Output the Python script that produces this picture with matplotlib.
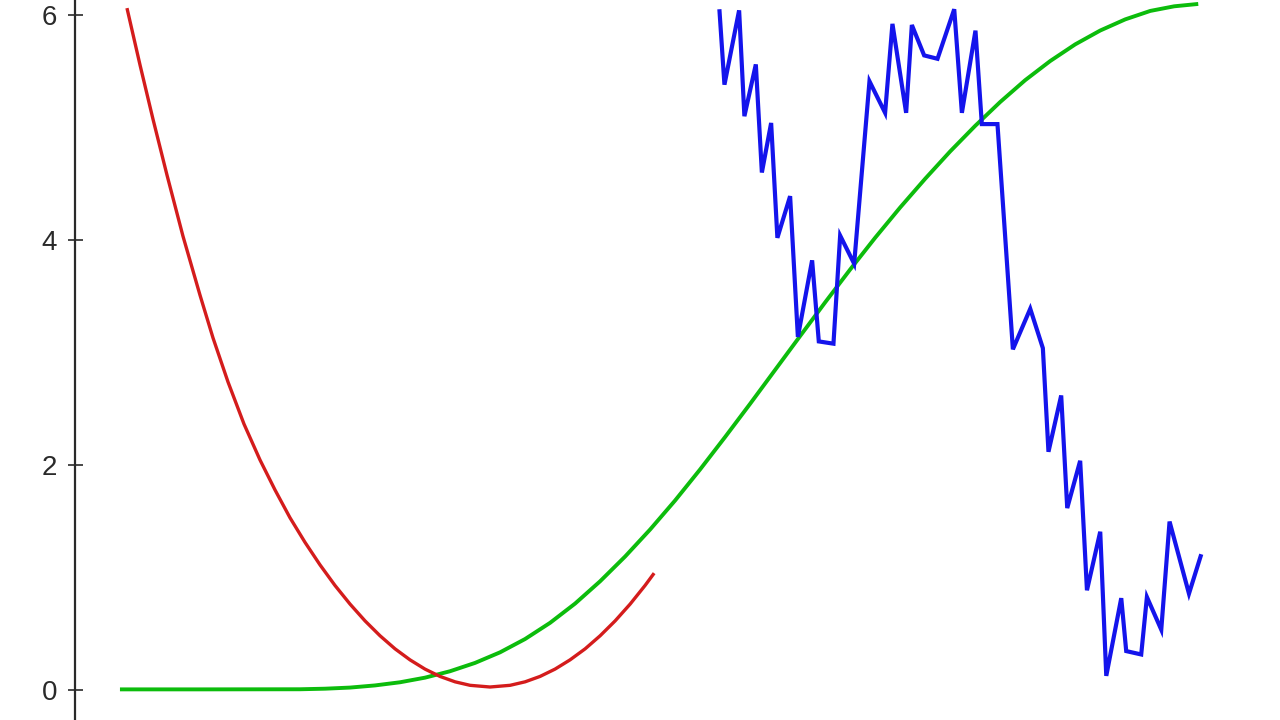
import matplotlib
matplotlib.use("Agg")
from matplotlib import pyplot as plt

# green s-curve
green_x = [0, 0.742, 1.670, 1.902, 2.134, 2.365, 2.597, 2.829, 3.061, 3.293, 3.525, 3.757,
           3.989, 4.221, 4.453, 4.685, 4.917, 5.148, 5.380, 5.612, 5.844, 6.076, 6.308,
           6.540, 6.772, 7.004, 7.236, 7.468, 7.699, 7.931, 8.163, 8.395, 8.627, 8.859,
           9.091, 9.323, 9.555, 9.777, 10.0]
green_y = [0.01, 0.01, 0.011, 0.016, 0.026, 0.045, 0.073, 0.114, 0.171, 0.245, 0.339, 0.457,
           0.601, 0.772, 0.970, 1.190, 1.430, 1.687, 1.963, 2.251, 2.546, 2.847, 3.148,
           3.447, 3.739, 4.021, 4.290, 4.545, 4.787, 5.014, 5.226, 5.420, 5.590, 5.738,
           5.861, 5.960, 6.035, 6.076, 6.097]

# red parabola
red_x = [0.065, 0.186, 0.306, 0.436, 0.584, 0.742, 0.863, 1.002, 1.150, 1.299, 1.438, 1.577,
         1.716, 1.855, 1.994, 2.134, 2.273, 2.412, 2.551, 2.690, 2.829, 2.968, 3.108, 3.247,
         3.432, 3.618, 3.757, 3.896, 4.035, 4.174, 4.314, 4.453, 4.592, 4.731, 4.870, 4.954]
red_y = [6.06, 5.555, 5.075, 4.578, 4.036, 3.512, 3.131, 2.740, 2.367, 2.047, 1.781, 1.534,
         1.316, 1.116, 0.933, 0.767, 0.618, 0.486, 0.370, 0.272, 0.190, 0.125, 0.077, 0.046,
         0.031, 0.046, 0.077, 0.125, 0.190, 0.272, 0.370, 0.486, 0.618, 0.767, 0.933, 1.042]

# blue jagged walk
blue_x = [5.559, 5.606, 5.742, 5.791, 5.897, 5.953, 6.039, 6.097, 6.215, 6.287, 6.419, 6.481,
          6.617, 6.679, 6.809, 6.951, 7.096, 7.164, 7.291, 7.344, 7.458, 7.582, 7.737, 7.808,
          7.934, 7.993, 8.138, 8.281, 8.442, 8.559, 8.611, 8.729, 8.785, 8.905, 8.968, 9.091,
          9.147, 9.286, 9.332, 9.471, 9.524, 9.657, 9.734, 9.914, 10.028]
blue_y = [6.05, 5.38, 6.04, 5.10, 5.56, 4.60, 5.04, 4.02, 4.39, 3.14, 3.82, 3.10,
          3.08, 4.04, 3.79, 5.41, 5.13, 5.92, 5.13, 5.91, 5.64, 5.61, 6.05, 5.13,
          5.86, 5.03, 5.03, 3.03, 3.39, 3.04, 2.12, 2.62, 1.62, 2.04, 0.89, 1.41,
          0.13, 0.82, 0.35, 0.32, 0.83, 0.54, 1.50, 0.86, 1.21]

y_ticks = [0, 2, 4, 6]

fig = plt.figure(figsize=(12.8, 7.2), dpi=100)
ax = fig.add_axes([75 / 1280, 0.0, 1175 / 1280, 1.0])

ax.plot(green_x, green_y, color="#0cbc0c", linewidth=2.8, solid_capstyle="butt")
ax.plot(red_x, red_y, color="#d41c1c", linewidth=2.4, solid_capstyle="butt")
ax.plot(blue_x, blue_y, color="#1414ec", linewidth=3.0, solid_joinstyle="miter",
        solid_capstyle="butt")

ax.set_xlim(-0.417, 10.48)
ax.set_ylim(-0.262, 6.132)
ax.set_yticks(y_ticks)
ax.set_yticklabels([str(t) for t in y_ticks], fontfamily="Liberation Sans", fontsize=20,
                   color="#2a2a2a")
ax.set_xticks([])
ax.tick_params(axis="y", direction="inout", length=10.8, width=1.2, color="#2a2a2a", pad=7.5)

ax.spines['top'].set_visible(False)
ax.spines['right'].set_visible(False)
ax.spines['bottom'].set_visible(False)
ax.spines['left'].set_color("#2a2a2a")
ax.spines['left'].set_linewidth(1.6)
ax.patch.set_visible(False)

fig.savefig("out.png", dpi=100)
